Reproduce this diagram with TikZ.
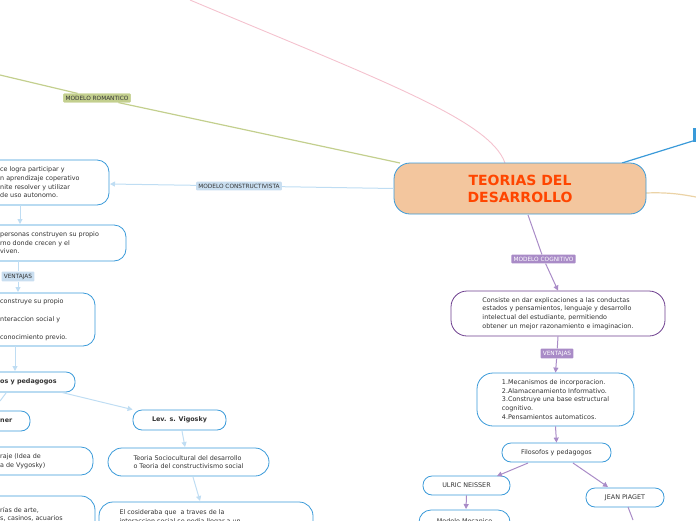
\documentclass[tikz,border=0pt]{standalone}
\usepackage{fontspec}
\setmainfont{DejaVu Sans}
\usetikzlibrary{arrows.meta}
\definecolor{bb}{HTML}{3A9AD9}
\definecolor{lb}{HTML}{BFDDF3}
\definecolor{lbf}{HTML}{C9DEF0}
\definecolor{pu}{HTML}{A98BC7}
\definecolor{pud}{HTML}{6E3F8F}
\definecolor{gr}{HTML}{C3CF8E}
\definecolor{pk}{HTML}{F4C2CE}
\definecolor{tan}{HTML}{EBD3A6}
\definecolor{txt}{HTML}{333333}
\tikzset{
 box/.style={draw=bb,line width=0.8pt,rounded corners=12pt,fill=white},
 tx/.style={font=\fontsize{6.4}{8.6}\selectfont,text=txt,align=left},
 lab/.style={font=\fontsize{5.8}{6}\selectfont,text=txt,rounded corners=1pt,inner sep=2.2pt},
 cb/.style={draw=lb,line width=1pt,-{Triangle[length=5pt,width=5pt]}},
 cp/.style={draw=pu,line width=1pt,-{Triangle[length=5pt,width=5pt]}},
}
\begin{document}
\begin{tikzpicture}[x=1pt,y=-1pt]
\useasboundingbox (0,0) rectangle (696,520);
\clip (0,0) rectangle (696,520);
% background connectors
\draw[pk,line width=0.9pt] (190,0) .. controls (380,80) and (490,120) .. (505,163);
\coordinate (g0) at (0,75);
\coordinate (g1) at (400,163);
\node[lab,fill=gr] (rom) at (97,98) {MODELO ROMANTICO};
\draw[gr,line width=1.2pt] (g0) -- (rom) -- (g1);
\node[lab,fill=gr] at (97,98) {MODELO ROMANTICO};
\draw[bb,line width=1.2pt] (622,163) -- (696,140);
\fill[bb] (693,128) rectangle (696,142);
\draw[tan,line width=1.2pt] (646,193) .. controls (670,192) and (685,195) .. (696,197);
% center
\node[box,fill={rgb,255:red,243;green,198;blue,158},minimum width=252pt,minimum height=51pt,rounded corners=16pt,font=\fontsize{14}{17}\selectfont\bfseries,text={rgb,255:red,255;green,69;blue,0},align=center] (c) at (520,188.5) {TEORIAS DEL\\ DESARROLLO};
% constructivista branch
\draw[box] (-40,160) rectangle (109,205);
\node[tx,anchor=west,inner sep=0pt] (A) at (0,182.5) {ce logra participar y\\n aprendizaje coperativo\\nite resolver y utilizar\\ de uso autonomo.};
\node[lab,fill=lbf] (mc) at (239,186) {MODELO CONSTRUCTIVISTA};
\draw[lb,line width=1pt] (c.west) -- (mc);
\draw[cb] (mc) -- (110,184);
\draw[box] (-40,225) rectangle (126,261);
\node[tx,anchor=west,inner sep=0pt] (B) at (0,243) {personas construyen su propio\\rno donde crecen y el\\viven.};
\draw[cb] (20,205) -- (20,224);
\node[lab,fill=lbf] (v1) at (18,276.5) {VENTAJAS};
\draw[lb,line width=1pt] (18,261) -- (v1);
\draw[cb] (v1) -- (18,292);
\draw[box] (-40,293) rectangle (95,346);
\node[tx,anchor=west,inner sep=0pt,font=\fontsize{6.4}{9}\selectfont] (C) at (0,320) {construye su propio\\[0pt]\\nteraccion social y\\[0pt]\\conocimiento previo.};
\draw[cb] (15,346) -- (15,371);
\draw[box,rounded corners=9pt] (-40,372) rectangle (75,392);
\node[tx,anchor=west,inner sep=0pt,font=\fontsize{6.4}{8}\selectfont\bfseries] (D) at (0,382) {os y pedagogos};
\draw[box,rounded corners=9pt] (-40,411) rectangle (30,431);
\node[tx,anchor=west,inner sep=0pt,font=\fontsize{6.4}{8}\selectfont\bfseries] (E) at (0,421) {ner};
\draw[lb,line width=1pt] (6,393) -- (0,401);
\node[box,rounded corners=9pt,minimum width=93pt,minimum height=20pt,tx,font=\fontsize{6.4}{8}\selectfont\bfseries,align=center] (lev) at (179.5,420) {Lev. s. Vigosky};
\draw[cb] (60,392) -- (lev.north west);
\node[box,rounded corners=14pt,minimum width=161pt,minimum height=28pt,tx] (teo) at (188.5,462) {Teoria Sociocultural del desarrollo\\o Teoria del constructivismo social};
\draw[cb] (182,431) -- (185,447);
\draw[box] (-40,447) rectangle (93,475);
\node[tx,anchor=west,inner sep=0pt] (F) at (0,461) {raje (Idea de\\a de Vygosky)};
\draw[box,rounded corners=14pt] (99,502) rectangle (313,560);
\node[tx,anchor=north west] (G) at (116,506) {El cosideraba que \ a traves de la\\interaccion social se podia llegar a un};
\draw[cb] (193,477) -- (200,501);
\draw[box,rounded corners=14pt] (-40,496) rectangle (95,560);
\node[tx,anchor=north west,inner sep=0pt] (H) at (0,507) {rías de arte,\\s, casinos, acuarios};
% cognitive branch
\node[lab,fill=pu,text=white] (mco) at (543.5,259) {MODELO COGNITIVO};
\node[box,draw=pud,rounded corners=16pt,minimum width=214pt,minimum height=45pt,tx] (cons) at (558,313.5) {Consiste en dar explicaciones a las conductas\\estados y pensamientos, lenguaje y desarrollo\\intelectual del estudiante, permitiendo\\obtener un mejor razonamiento e imaginacion.};
\draw[pu,line width=1pt] (528,215) -- (mco);
\draw[cp] (mco) -- (cons.north);
\node[lab,fill=pu,text=white] (v2) at (557,353.5) {VENTAJAS};
\draw[pu,line width=1pt] (cons.south) -- (v2);
\node[box,rounded corners=16pt,minimum width=157pt,minimum height=53pt,tx] (list) at (555.5,399.5) {1.Mecanismos de incorporacion.\\2.Alamacenamiento Informativo.\\3.Construye una base estructural\\cognitivo.\\4.Pensamientos automaticos.};
\draw[cp] (v2) -- (list.north);
\node[box,rounded corners=9pt,minimum width=109pt,minimum height=19pt,tx,align=center] (fil) at (556.5,452.5) {Filosofos y pedagogos};
\draw[cp] (list.south) -- (fil.north);
\node[box,rounded corners=9pt,minimum width=87pt,minimum height=19pt,tx,align=center] (ul) at (466.5,485.5) {ULRIC NEISSER};
\node[box,rounded corners=9pt,minimum width=78pt,minimum height=19pt,tx,align=center] (jp) at (625,497.5) {JEAN PIAGET};
\draw[cp] (528,463) -- (497,476);
\draw[cp] (573,463) -- (608,487);
\draw[box,rounded corners=12pt] (419,510) rectangle (510,560);
\node[tx,anchor=north] (mm) at (464.5,515) {Modelo Mecanico};
\draw[cp] (ul.south) -- (466,509);
\draw[pu,line width=1pt] (628,507) -- (633,520);
\end{tikzpicture}
\end{document}
